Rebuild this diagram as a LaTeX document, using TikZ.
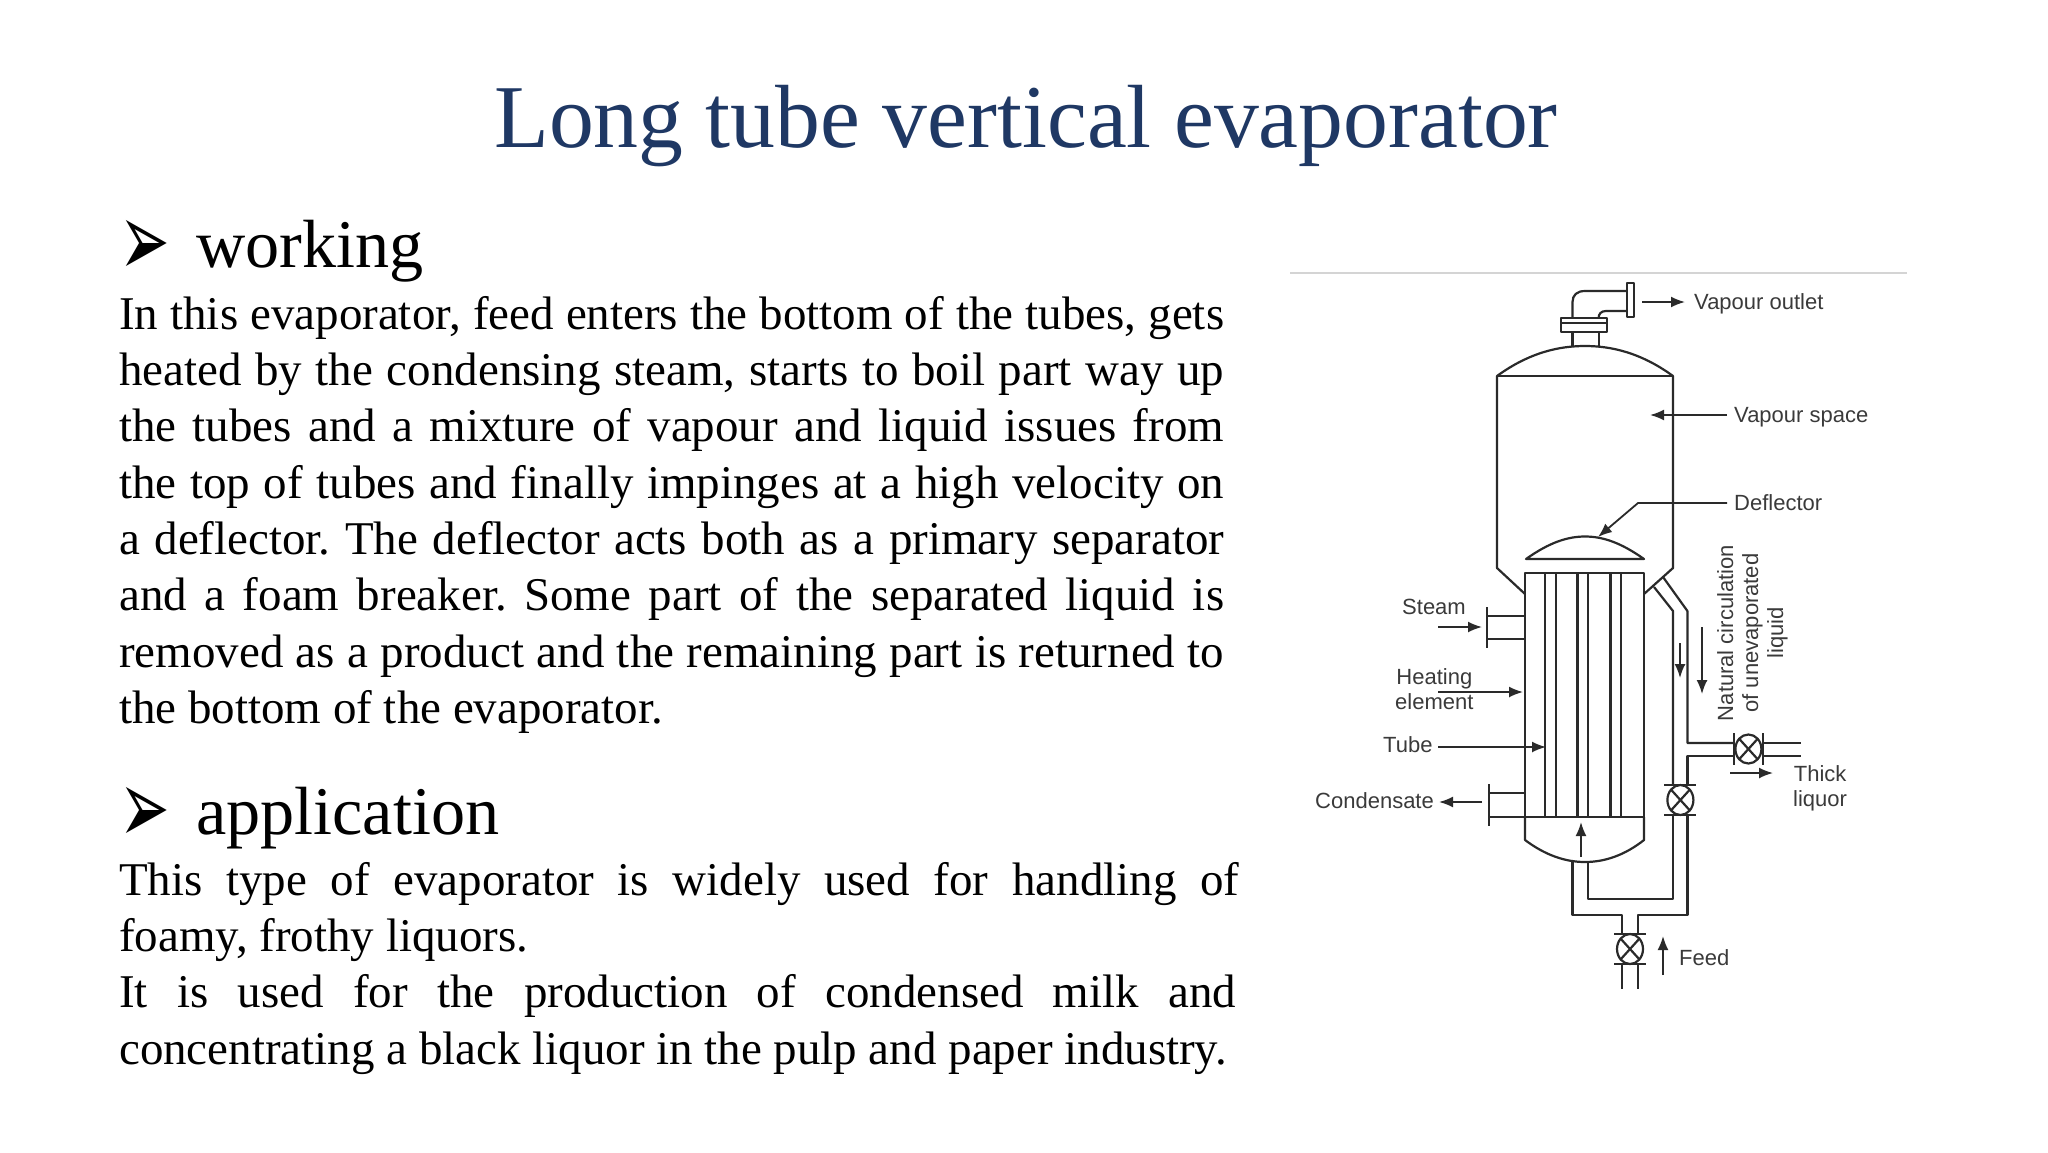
\documentclass[tikz,border=0pt]{standalone}
\usepackage{fontspec}
\setmainfont{Liberation Serif}
\newfontfamily\labelfont{Liberation Sans}
\newfontfamily\dingfont{DejaVu Sans}
\usetikzlibrary{arrows.meta}
\usetikzlibrary{positioning}
\definecolor{titleblue}{HTML}{1F3864}
\definecolor{linegray}{HTML}{2A2A2A}
\definecolor{labelgray}{HTML}{3A3A3A}
\definecolor{rulegray}{HTML}{D4D4D4}
\newcommand{\bulletmark}{\scalebox{1.12}[1.95]{➢}}
\tikzset{titletext/.style = {anchor=base west, inner sep=0, text=titleblue, font=\fontsize{89.7}{96}\selectfont},
         headtext/.style = {anchor=base west, inner sep=0, font=\fontsize{68.2}{72}\selectfont},
         bullettext/.style = {anchor=base west, inner sep=0, font=\dingfont\fontsize{54}{60}\selectfont},
         bodytext/.style = {anchor=north west, inner sep=0, align=justify, font=\frenchspacing\fontsize{46.95}{56.3}\selectfont},
         tag/.style = {inner sep=0, text=labelgray, font=\labelfont\fontsize{22}{25}\selectfont},
         pipe/.style = {draw=linegray, line width=2.2pt, line join=round},
         pointer/.style = {draw=linegray, line width=1.8pt, -{Latex[length=14pt,width=11pt]}},
         valve/.pic = {\draw[pipe] (0,0) ellipse (13 and 15);
                       \draw[pipe] (-9.5,-10.5) -- (9.5,10.5);
                       \draw[pipe] (-9.5,10.5) -- (9.5,-10.5);
                       \draw[pipe] (-16,-15) -- (16,-15);
                       \draw[pipe] (-16,15) -- (16,15);},
         sidevalve/.pic = {\draw[pipe] (0,0) ellipse (13 and 14.5);
                           \draw[pipe] (-9.5,-10.5) -- (9.5,10.5);
                           \draw[pipe] (-9.5,10.5) -- (9.5,-10.5);
                           \draw[pipe] (-14.5,-16) -- (-14.5,16);
                           \draw[pipe] (14.5,-16) -- (14.5,16);}}
\begin{document}
\begin{tikzpicture}[x=1pt, y=-1pt]
    \useasboundingbox (0,0) rectangle (2048,1152);

    % slide text
    \node[titletext] (title) at (494,147) {Long tube vertical evaporator};
    \node[bullettext] (bulletone) at (119,276) {\bulletmark};
    \node[headtext] (working) at (196,267) {working};
    \node[bodytext, text width=1105pt] (workingtext) at (119,296) {In this evaporator, feed enters the bottom of the tubes, gets\linebreak
      heated by the condensing steam, starts to boil part way up\linebreak
      the tubes and a mixture of vapour and liquid issues from\linebreak
      the top of tubes and finally impinges at a high velocity on\linebreak
      a deflector. The deflector acts both as a primary separator\linebreak
      and a foam breaker. Some part of the separated liquid is\linebreak
      removed as a product and the remaining part is returned to\linebreak
      the bottom of the evaporator.};
    \node[bullettext] (bullettwo) at (119,843) {\bulletmark};
    \node[headtext] (application) at (196,834) {application};
    \node[bodytext, text width=1120pt] (applicationtext) at (119,862) {This type of evaporator is widely used for handling of\linebreak
      foamy, frothy liquors.};
    \node[bodytext, text width=1117pt] (milktext) at (119,974.5) {It is used for the production of condensed milk and\linebreak
      concentrating a black liquor in the pulp and paper industry.};

    % vessel
    \draw[draw=rulegray, line width=2pt] (1290,272.5) -- (1907,272.5);
    \draw[pipe] (1525,594) -- (1497,568) -- (1497,376) .. controls (1530,352) and (1560,346) .. (1585,346)
      .. controls (1610,346) and (1640,352) .. (1673,376) -- (1673,568) -- (1644,594);
    \draw[pipe] (1497,376) -- (1673,376);
    \draw[pipe] (1572.5,346) -- (1572.5,332);
    \draw[pipe] (1598.6,346) -- (1598.6,332);
    \draw[pipe] (1561,318) rectangle (1607,332);
    \draw[pipe] (1561,323) -- (1607,323);
    \draw[pipe] (1572.5,318) -- (1572.5,302) .. controls (1572.5,295) and (1577,291) .. (1585,291) -- (1627,291);
    \draw[pipe] (1598.6,318) .. controls (1598.6,314) and (1601,311) .. (1606,311) -- (1627,311);
    \draw[pipe] (1627,283) rectangle (1634,317);

    % deflector and tube bundle
    \draw[pipe] (1526,559) .. controls (1550,542) and (1568,536.5) .. (1585,536.5)
      .. controls (1602,536.5) and (1620,542) .. (1644,559) -- cycle;
    \draw[pipe] (1525,573) rectangle (1644,817);
    \foreach \tubex in {1545,1556,1577.5,1588,1610.4,1621}
      \draw[pipe] (\tubex,573) -- (\tubex,817);
    \draw[pipe] (1525,817) -- (1525,840) .. controls (1545,855) and (1565,862) .. (1585,862)
      .. controls (1605,862) and (1625,855) .. (1644,840) -- (1644,817);
    \draw[pipe] (1487,607) -- (1487,648);
    \draw[pipe] (1487,616) -- (1525,616);
    \draw[pipe] (1487,639) -- (1525,639);
    \draw[pipe] (1489,784) -- (1489,826);
    \draw[pipe] (1489,793) -- (1525,793);
    \draw[pipe] (1489,817) -- (1525,817);

    % return pipes and valves
    \draw[pipe] (1654,587) -- (1673,611) -- (1673,785);
    \draw[pipe] (1673,815) -- (1673,899) -- (1588,899) -- (1588,862);
    \draw[pipe] (1663,577) -- (1687.4,611) -- (1687.4,743) -- (1734.5,743);
    \draw[pipe] (1734.5,756) -- (1687.4,756) -- (1687.4,785);
    \draw[pipe] (1687.4,815) -- (1687.4,915) -- (1637.7,915) -- (1637.7,934);
    \draw[pipe] (1572.5,862) -- (1572.5,915) -- (1622,915) -- (1622,934);
    \draw[pipe] (1622,964) -- (1622,989);
    \draw[pipe] (1637.7,964) -- (1637.7,989);
    \draw[pipe] (1763,743) -- (1801,743);
    \draw[pipe] (1763,756) -- (1801,756);
    \pic at (1680.4,800) {valve};
    \pic at (1630,949) {valve};
    \pic at (1748.4,749) {sidevalve};

    % labels
    \node[tag, anchor=west] (outlet) at (1694,304) {Vapour outlet};
    \node[tag, anchor=west] (space) at (1734,417) {Vapour space};
    \node[tag, anchor=west] (deflector) at (1734,503) {Deflector};
    \node[tag] (steam) at (1434,607) {Steam};
    \node[tag, anchor=west, align=center] (heating) at (1395,689) {Heating\\element};
    \node[tag, anchor=west] (tube) at (1383,745) {Tube};
    \node[tag, anchor=west] (condensate) at (1315,801) {Condensate};
    \node[tag, anchor=west, align=center] (thick) at (1793,788) {Thick\\liquor};
    \node[tag, anchor=west] (feed) at (1679,958) {Feed};
    \node[tag, rotate=90, align=center] (natural) at (1752.5,633) {Natural circulation\\of unevaporated\\liquid};

    % arrows
    \coordinate (outleta) at (1642,302);
    \coordinate (outletb) at (1685,302);
    \coordinate (spacea) at (1727,415);
    \coordinate (spaceb) at (1650,415);
    \coordinate (deflectora) at (1727,503);
    \coordinate (deflectorb) at (1638,503);
    \coordinate (deflectorc) at (1598,537);
    \coordinate (steama) at (1438,627);
    \coordinate (steamb) at (1482,627);
    \coordinate (heata) at (1438,692);
    \coordinate (heatb) at (1523,692);
    \coordinate (tubea) at (1438,747);
    \coordinate (tubeb) at (1546,747);
    \coordinate (condensatea) at (1482,802);
    \coordinate (condensateb) at (1439,802);
    \coordinate (thicka) at (1730,773);
    \coordinate (thickb) at (1773,773);
    \coordinate (feeda) at (1663,975);
    \coordinate (feedb) at (1663,936);
    \coordinate (heada) at (1581,857);
    \coordinate (headb) at (1581,822);
    \coordinate (returna) at (1680,643);
    \coordinate (returnb) at (1680,678);
    \coordinate (circa) at (1702,627);
    \coordinate (circb) at (1702,694);
    \draw[pointer] (outleta) -- (outletb);
    \draw[pointer] (spacea) -- (spaceb);
    \draw[pointer] (deflectora) -- (deflectorb) -- (deflectorc);
    \draw[pointer] (steama) -- (steamb);
    \draw[pointer] (heata) -- (heatb);
    \draw[pointer] (tubea) -- (tubeb);
    \draw[pointer] (condensatea) -- (condensateb);
    \draw[pointer] (thicka) -- (thickb);
    \draw[pointer] (feeda) -- (feedb);
    \draw[pointer] (heada) -- (headb);
    \draw[pointer] (returna) -- (returnb);
    \draw[pointer] (circa) -- (circb);
\end{tikzpicture}
\end{document}
